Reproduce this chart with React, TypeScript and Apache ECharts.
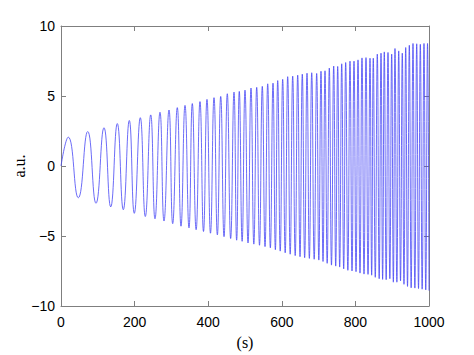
import React, { useEffect, useRef } from "react";
import * as echarts from "echarts";

const xTicks = [0, 200, 400, 600, 800, 1000];
const yTicks = [-10, -5, 0, 5, 10];

const startPoint = [0, 0];

const peakTimes = [
  19.8, 72.6, 116.8, 153.0, 185.6, 215.5, 243.8, 269.0, 293.5, 316.0,
  337.0, 356.8, 377.7, 396.7, 415.8, 434.0, 451.9, 470.1, 484.5, 500.0,
  516.3, 531.8, 547.0, 561.7, 576.1, 588.9, 602.4, 616.0, 629.6, 643.2,
  655.7, 668.5, 681.3, 694.8, 706.5, 717.4, 729.1, 741.0, 751.9, 762.8,
  773.6, 785.3, 796.2, 807.1, 817.9, 828.8, 839.7, 848.6, 859.5, 869.6,
  878.5, 888.6, 898.6, 907.6, 917.7, 927.4, 936.7, 946.5, 956.5, 966.6,
  976.4, 986.4, 996.0,
];
const peakValues = [
  2.06, 2.46, 2.73, 3.03, 3.25, 3.45, 3.65, 3.84, 4.0, 4.17,
  4.33, 4.46, 4.6, 4.76, 4.88, 4.97, 5.16, 5.28, 5.33, 5.42,
  5.57, 5.62, 5.69, 5.87, 5.92, 6.1, 6.19, 6.38, 6.42, 6.49,
  6.56, 6.63, 6.66, 6.61, 6.77, 6.8, 7.0, 7.14, 7.11, 7.3,
  7.39, 7.49, 7.49, 7.58, 7.72, 7.74, 7.7, 7.7, 7.99, 8.06,
  8.15, 8.11, 7.99, 8.39, 8.22, 8.06, 8.46, 8.62, 8.75, 8.73,
  8.69, 8.75, 8.75,
];
const troughTimes = [
  47.0, 95.1, 135.1, 169.3, 199.2, 229.1, 255.4, 279.9, 303.5, 326.1,
  347.8, 367.2, 387.2, 406.2, 424.9, 443.0, 461.0, 477.3, 492.2, 508.2,
  524.0, 539.4, 554.4, 568.9, 582.5, 595.7, 609.2, 622.8, 636.4, 649.5,
  662.1, 674.9, 688.0, 700.6, 712.0, 723.3, 735.0, 746.5, 757.3, 768.2,
  779.5, 790.8, 801.7, 812.5, 823.4, 834.3, 844.2, 854.0, 864.6, 874.0,
  883.6, 893.6, 903.1, 912.7, 922.6, 932.0, 941.6, 951.5, 961.6, 971.5,
  981.4, 991.2, 1000.0,
];
const troughValues = [
  -2.27, -2.66, -2.92, -3.12, -3.38, -3.61, -3.77, -3.93, -4.12, -4.3,
  -4.42, -4.55, -4.68, -4.8, -4.92, -5.05, -5.18, -5.3, -5.38, -5.5,
  -5.58, -5.66, -5.76, -5.85, -5.98, -6.08, -6.2, -6.3, -6.4, -6.48,
  -6.55, -6.6, -6.66, -6.72, -6.82, -6.95, -7.08, -7.15, -7.22, -7.35,
  -7.45, -7.5, -7.55, -7.65, -7.72, -7.74, -7.8, -7.95, -8.05, -8.1,
  -8.12, -8.05, -8.3, -8.3, -8.2, -8.45, -8.6, -8.7, -8.72, -8.75,
  -8.8, -8.85, -8.9,
];

const yTitle = "a.u.";
const xTitle = "(s)";

const fmtMinus = (v: number) => String(v).replace("-", "\u2212");

export default function App() {
  const ref = useRef<HTMLDivElement>(null);
  useEffect(() => {
    if (!ref.current) return;
    const chart = echarts.init(ref.current, undefined, { renderer: "svg" });
    const data: number[][] = [startPoint];
    for (let i = 0; i < peakTimes.length; i++) {
      data.push([peakTimes[i], peakValues[i]]);
      if (i < troughTimes.length) data.push([troughTimes[i], troughValues[i]]);
    }
    const axisGray = "#7f7f7f";
    const labelStyle = {
      color: "#000",
      fontFamily: "Liberation Sans, Arial, sans-serif",
      fontSize: 14,
    };
    const tick = { show: true, inside: true, length: 5, lineStyle: { color: axisGray, width: 1 } };
    const line = { show: true, onZero: false, lineStyle: { color: axisGray, width: 1 } };
    const nameStyle = { color: "#000", fontFamily: "Liberation Serif, serif", fontSize: 16 };
    chart.setOption({
      animation: false,
      backgroundColor: "#fff",
      grid: { left: 61, right: 45, top: 26, bottom: 40, containLabel: false },
      xAxis: [
        {
          type: "value",
          min: 0,
          max: 1000,
          interval: 200,
          position: "bottom",
          axisLine: line,
          axisTick: tick,
          axisLabel: { ...labelStyle, margin: 9, formatter: (v: number) => fmtMinus(v) },
          splitLine: { show: false },
          name: xTitle,
          nameLocation: "middle",
          nameGap: 28,
          nameMoveOverlap: false,
          nameTextStyle: nameStyle,
        },
        {
          type: "value",
          min: 0,
          max: 1000,
          interval: 200,
          position: "top",
          axisLine: line,
          axisTick: tick,
          axisLabel: { show: false },
          splitLine: { show: false },
        },
      ],
      yAxis: [
        {
          type: "value",
          min: -10,
          max: 10,
          interval: 5,
          position: "left",
          axisLine: line,
          axisTick: tick,
          axisLabel: { ...labelStyle, margin: 6, formatter: (v: number) => fmtMinus(v) },
          splitLine: { show: false },
          name: yTitle,
          nameLocation: "middle",
          nameGap: 34,
          nameRotate: 90,
          nameMoveOverlap: false,
          nameTextStyle: nameStyle,
        },
        {
          type: "value",
          min: -10,
          max: 10,
          interval: 5,
          position: "right",
          axisLine: line,
          axisTick: tick,
          axisLabel: { show: false },
          splitLine: { show: false },
        },
      ],
      series: [
        {
          type: "line",
          data,
          smooth: 0.5,
          showSymbol: false,
          symbol: "none",
          lineStyle: { color: "#4646f5", width: 0.8 },
          xAxisIndex: 0,
          yAxisIndex: 0,
        },
      ],
    });
    return () => chart.dispose();
  }, []);
  return (
    <div
      ref={ref}
      style={{ position: "fixed", left: 0, top: 0, width: 474, height: 355 }}
    />
  );
}
